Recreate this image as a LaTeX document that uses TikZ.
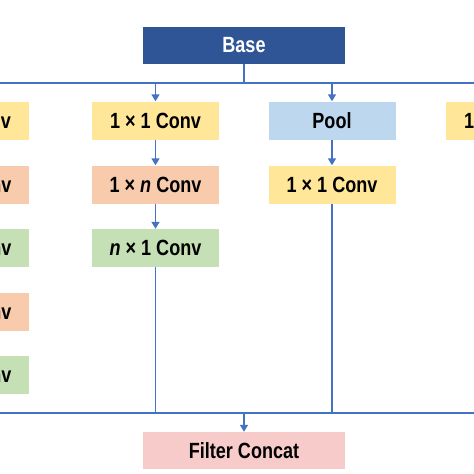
\documentclass[tikz,border=0pt]{standalone}
\usepackage{fontspec}
\setmainfont{Liberation Sans}
\newfontfamily\boxfont[FakeStretch=0.82]{Liberation Sans}
\usetikzlibrary{arrows.meta}

\definecolor{baseblue}{HTML}{2F5597}
\definecolor{lineblue}{HTML}{4472C4}
\definecolor{convyellow}{HTML}{FFE699}
\definecolor{convorange}{HTML}{F8CBAD}
\definecolor{convgreen}{HTML}{C5E0B4}
\definecolor{poolblue}{HTML}{BDD7EE}
\definecolor{concatpink}{HTML}{F8CBCB}

\begin{document}
\begin{tikzpicture}[
    x=1pt, y=-1pt,
    layer/.style={rectangle, minimum width=127pt, minimum height=38pt, inner sep=0pt,
        font=\boxfont\bfseries\fontsize{22}{24}\selectfont},
    wide/.style={layer, minimum width=202pt, minimum height=37pt},
    link/.style={draw=lineblue, line width=1.5pt},
    connector/.style={link, -{Triangle[width=8pt, length=7pt]}}
]
\useasboundingbox (0,0) rectangle (474,474);
\clip (0,0) rectangle (474,474);

% --- BASE ---
\node[wide, fill=baseblue, text=white] (base) at (244,45.5) {Base};
\coordinate (split) at (244,83);

% --- BRANCHE 1 (coupee a gauche) ---
\node[layer, fill=convyellow] (b1-1) at (-34.5,120.5) {1 × 1 Conv};
\node[layer, fill=convorange] (b1-2) at (-34.5,184.5) {1 × \textit{n} Conv};
\node[layer, fill=convgreen]  (b1-3) at (-34.5,248) {\textit{n} × 1 Conv};
\node[layer, fill=convorange] (b1-4) at (-34.5,312) {1 × \textit{n} Conv};
\node[layer, fill=convgreen]  (b1-5) at (-34.5,375) {\textit{n} × 1 Conv};

% --- BRANCHE 2 ---
\node[layer, fill=convyellow] (b2-1) at (155.5,120.5) {1 × 1 Conv};
\node[layer, fill=convorange] (b2-2) at (155.5,184.5) {1 × \textit{n} Conv};
\node[layer, fill=convgreen]  (b2-3) at (155.5,248) {\textit{n} × 1 Conv};

% --- BRANCHE 3 ---
\node[layer, fill=poolblue]   (b3-1) at (332,120.5) {Pool};
\node[layer, fill=convyellow] (b3-2) at (332,184.5) {1 × 1 Conv};

% --- BRANCHE 4 (coupee a droite) ---
\node[layer, fill=convyellow] (b4-1) at (509.5,120.5) {1 × 1 Conv};

% --- SORTIE ---
\node[wide, fill=concatpink] (concat) at (244,450.5) {Filter Concat};
\coordinate (merge) at (244,413);

% --- CONNEXIONS ---
\draw[link] (base) -- (split);
\draw[link] (b1-1 |- split) -- (b4-1 |- split);
\foreach \b in {1,...,4}
    \draw[connector] (b\b-1 |- split) -- (b\b-1);

\foreach \i [evaluate=\i as \j using {int(\i+1)}] in {1,...,4}
    \draw[connector] (b1-\i) -- (b1-\j);
\foreach \i [evaluate=\i as \j using {int(\i+1)}] in {1,2}
    \draw[connector] (b2-\i) -- (b2-\j);
\draw[connector] (b3-1) -- (b3-2);

\foreach \last in {b1-5,b2-3,b3-2,b4-1}
    \draw[link] (\last) -- (\last |- merge);
\draw[link] (b1-5 |- merge) -- (b4-1 |- merge);
\draw[connector] (merge) -- (concat);

\end{tikzpicture}
\end{document}
